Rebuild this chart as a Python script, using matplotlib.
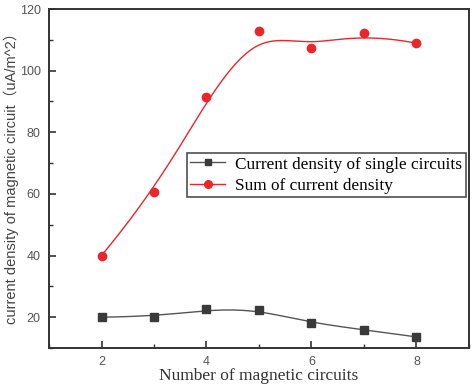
import numpy as np
import matplotlib
matplotlib.use("Agg")
import matplotlib.pyplot as plt
from matplotlib.ticker import MultipleLocator

# ---- data ----
circuits = [2, 3, 4, 5, 6, 7, 8]
single_density = [20.0, 20.2, 22.6, 22.4, 18.0, 15.9, 13.6]
sum_density = [40.0, 60.5, 91.3, 112.8, 107.3, 112.2, 108.9]
x_ticks = [2, 4, 6, 8]
y_ticks = [20, 40, 60, 80, 100, 120]
labels = ["Current density of single circuits", "Sum of current density"]


def bspline(xs, ys, n=300, k=3):
    """Clamped B-spline using data points as control points (Origin-style)."""
    P = np.column_stack([xs, ys]).astype(float)
    m = len(P)
    knots = np.concatenate([np.zeros(k), np.linspace(0, 1, m - k + 1), np.ones(k)])
    ts = np.linspace(0, 1 - 1e-9, n)
    out = []
    for t in ts:
        N = np.array([1.0 if knots[i] <= t < knots[i + 1] else 0.0
                      for i in range(len(knots) - 1)])
        for d in range(1, k + 1):
            Nn = np.zeros(len(knots) - 1 - d)
            for i in range(len(Nn)):
                a = 0.0
                if knots[i + d] != knots[i]:
                    a = (t - knots[i]) / (knots[i + d] - knots[i]) * N[i]
                b = 0.0
                if knots[i + d + 1] != knots[i + 1]:
                    b = (knots[i + d + 1] - t) / (knots[i + d + 1] - knots[i + 1]) * N[i + 1]
                Nn[i] = a + b
            N = Nn
        out.append(N @ P)
    out = np.array(out)
    out = np.vstack([out, P[-1]])
    return out[:, 0], out[:, 1]


fig = plt.figure(figsize=(4.74, 3.87), dpi=100)
ax = fig.add_axes([49 / 474, 1 - 348 / 387, 420 / 474, 339 / 387])

red = "#e8272c"
dark = "#3a3a3a"

bx, by = bspline(circuits, single_density)
ax.plot(bx, by, color="#555555", lw=1.0)
ax.plot(circuits, single_density, ls="none", marker="s", ms=5.5, color=dark)
ax.plot([], [], color="#555555", lw=1.0, marker="s", ms=5, mfc=dark, mec=dark, label=labels[0])

rx, ry = bspline(circuits, sum_density)
ax.plot(rx, ry, color=red, lw=1.0)
ax.plot(circuits, sum_density, ls="none", marker="o", ms=6, color=red)
ax.plot([], [], color=red, lw=1.0, marker="o", ms=5.5, label=labels[1])

ax.set_xlim(1, 9)
ax.set_ylim(10, 120)
ax.set_xticks(x_ticks)
ax.set_yticks(y_ticks)
ax.xaxis.set_minor_locator(MultipleLocator(1))
ax.yaxis.set_minor_locator(MultipleLocator(10))
ax.tick_params(which="both", direction="in", top=False, right=False, colors="#333333")
ax.tick_params(which="major", length=5, width=1.2, labelsize=9, labelcolor="#555555", pad=6)
ax.tick_params(which="minor", length=3, width=1.0)
for lab in ax.get_xticklabels() + ax.get_yticklabels():
    lab.set_family(["Liberation Sans", "DejaVu Sans"])
for s in ax.spines.values():
    s.set_linewidth(1.4)
    s.set_color("#333333")

ax.set_xlabel("Number of magnetic circuits", family="Liberation Serif", fontsize=12.5,
              color="#333333")
ax.xaxis.set_label_coords(0.5, -20 / 339)
ax.set_ylabel("current density of magnetic circuit（uA/m^2）",
              family=["Liberation Sans", "Noto Sans CJK SC"], fontsize=10.5,
              color="#444444")
ax.yaxis.set_label_coords(-30 / 420, 0.51)

leg = ax.legend(loc="upper left", bbox_to_anchor=(138 / 420, 1 - 144 / 339),
                prop={"family": "Liberation Serif", "size": 12.4},
                frameon=True, fancybox=False, edgecolor="#222222",
                borderpad=0.2, labelspacing=0.3, handlelength=2.0,
                handletextpad=0.6, borderaxespad=0)
leg.get_frame().set_linewidth(1.2)

fig.savefig("out.png", dpi=100)
